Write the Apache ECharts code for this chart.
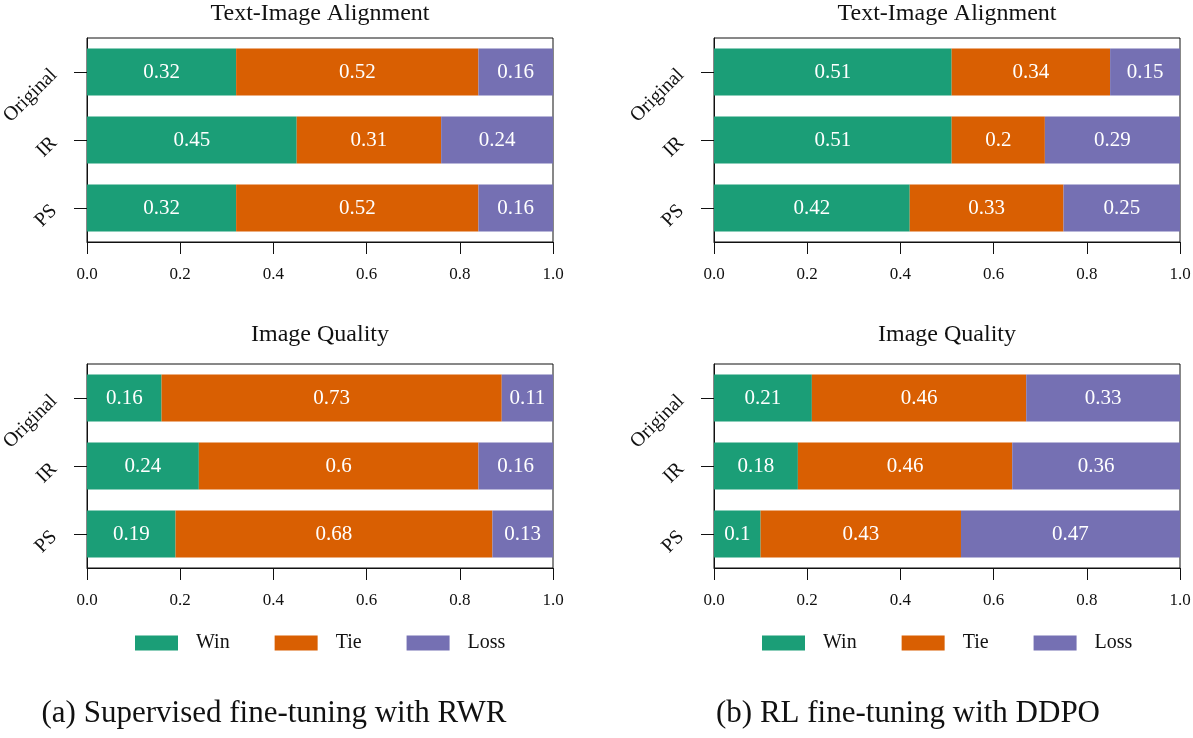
<!DOCTYPE html>
<html>
<head>
    <meta charset="utf-8">
    <script src="https://cdn.jsdelivr.net/npm/echarts@6.0.0/dist/echarts.min.js"></script>
    <style>
        html, body { margin: 0; padding: 0; background: #fff; }
    </style>
</head>
<body>
    <div id="main" style="width: 1193px;height:738px;"></div>
    <script type="text/javascript">
        // rows of each panel, top to bottom
        var categories = ['Original', 'IR', 'PS'];
        var seriesNames = ['Win', 'Tie', 'Loss'];
        var colors = ['#1b9e77', '#d95f02', '#7570b3'];

        // (a) RWR, text-image alignment
        var rwrAlignWin = [0.32, 0.45, 0.32];
        var rwrAlignTie = [0.52, 0.31, 0.52];
        var rwrAlignLoss = [0.16, 0.24, 0.16];
        // (b) DDPO, text-image alignment
        var ddpoAlignWin = [0.51, 0.51, 0.42];
        var ddpoAlignTie = [0.34, 0.2, 0.33];
        var ddpoAlignLoss = [0.15, 0.29, 0.25];
        // (a) RWR, image quality
        var rwrQualWin = [0.16, 0.24, 0.19];
        var rwrQualTie = [0.73, 0.6, 0.68];
        var rwrQualLoss = [0.11, 0.16, 0.13];
        // (b) DDPO, image quality
        var ddpoQualWin = [0.21, 0.18, 0.1];
        var ddpoQualTie = [0.46, 0.46, 0.43];
        var ddpoQualLoss = [0.33, 0.36, 0.47];

        var panelTitles = ['Text-Image Alignment', 'Text-Image Alignment', 'Image Quality', 'Image Quality'];
        var captions = ['(a) Supervised fine-tuning with RWR', '(b) RL fine-tuning with DDPO'];

        var panels = [
            [rwrAlignWin, rwrAlignTie, rwrAlignLoss],
            [ddpoAlignWin, ddpoAlignTie, ddpoAlignLoss],
            [rwrQualWin, rwrQualTie, rwrQualLoss],
            [ddpoQualWin, ddpoQualTie, ddpoQualLoss]
        ];

        var serif = "'Liberation Serif', 'DejaVu Serif', serif";
        var ink = '#111';
        var colLeft = [87, 714];
        var rowTop = [38, 364];
        var plotW = 466, plotH = 204;

        var grids = [], xAxes = [], yAxes = [], series = [], graphics = [];

        panels.forEach(function (panel, p) {
            var col = p % 2, row = Math.floor(p / 2);
            grids.push({
                left: colLeft[col], top: rowTop[row], width: plotW, height: plotH,
                outerBoundsMode: 'none', containLabel: false,
                show: true, borderColor: ink, borderWidth: 1, backgroundColor: 'transparent'
            });
            xAxes.push({
                gridIndex: p, type: 'value', min: 0, max: 1, interval: 0.2,
                axisLine: { show: true, lineStyle: { color: ink, width: 1 } },
                axisTick: { show: true, length: 12, lineStyle: { color: ink } },
                splitLine: { show: false },
                axisLabel: {
                    color: ink, fontFamily: serif, fontSize: 17, margin: 24,
                    formatter: function (v) { return v.toFixed(1); }
                }
            });
            yAxes.push({
                gridIndex: p, type: 'category', data: categories, inverse: true,
                axisLine: { show: true, lineStyle: { color: ink, width: 1 } },
                axisTick: { show: true, length: 13, alignWithLabel: true, lineStyle: { color: ink } },
                axisLabel: { color: ink, fontFamily: serif, fontSize: 20, rotate: 45, margin: 33 }
            });
            panel.forEach(function (vals, s) {
                series.push({
                    name: seriesNames[s], type: 'bar', stack: 'p' + p,
                    xAxisIndex: p, yAxisIndex: p,
                    barWidth: 47,
                    itemStyle: { color: colors[s] },
                    label: {
                        show: true, position: 'inside', color: '#fff',
                        fontFamily: serif, fontSize: 21
                    },
                    data: vals
                });
            });
            graphics.push({
                type: 'text', x: colLeft[col] + plotW / 2, y: row === 0 ? 14 : 335,
                style: {
                    text: panelTitles[p], fill: ink, font: '24px ' + serif,
                    textAlign: 'center', textVerticalAlign: 'middle'
                }
            });
        });

        captions.forEach(function (c, i) {
            graphics.push({
                type: 'text', x: i === 0 ? 274 : 908, y: 714,
                style: {
                    text: c, fill: ink, font: '31px ' + serif,
                    textAlign: 'center', textVerticalAlign: 'middle'
                }
            });
        });

        var legendBase = {
            data: seriesNames, top: 628, orient: 'horizontal',
            itemWidth: 43, itemHeight: 15, itemGap: 45, icon: 'rect',
            textStyle: { color: ink, fontFamily: serif, fontSize: 20, padding: [0, 0, 0, 13] }
        };

        var myChart = echarts.init(document.getElementById('main'));
        var option = {
            animation: false,
            backgroundColor: '#fff',
            color: colors,
            legend: [
                Object.assign({}, legendBase, { left: 130 }),
                Object.assign({}, legendBase, { left: 757 })
            ],
            grid: grids,
            xAxis: xAxes,
            yAxis: yAxes,
            series: series,
            graphic: graphics
        };
        myChart.setOption(option);
    </script>
</body>
</html>
